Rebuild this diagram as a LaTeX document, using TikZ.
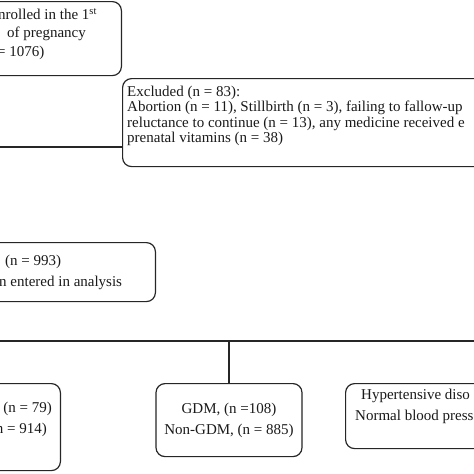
\documentclass[tikz,border=0pt]{standalone}
\usepackage{fontspec}
\setmainfont{Liberation Serif}
\usepackage{xcolor}
\usepackage{tikz}
\usetikzlibrary{positioning}
\definecolor{fcInk}{HTML}{1A1A1A}
\definecolor{fcLine}{HTML}{262626}
\tikzset{
  fc diagram/.style={font=\fontsize{15}{21}\selectfont, text=fcInk,
    line join=round},
  fc box/.style={draw=fcLine, fill=white, line width=1.2pt,
    rounded corners=9pt, inner sep=0pt},
  fc text/.style={inner sep=0pt, align=left},
  fc line/.style={draw=fcLine, line width=1.2pt}
}

\begin{document}
\begin{tikzpicture}[fc diagram,x=1pt,y=1pt]
\useasboundingbox (0,0) rectangle (474,-474);
\clip (0,0) rectangle (474,-474);
% boxes, partly outside the frame
\node[fc box,anchor=north east,minimum width=300pt,minimum height=74pt] (enrol) at (122,-1) {};
\node[fc box,anchor=north west,minimum width=500pt,minimum height=88pt] (excl) at (122,-78) {};
\node[fc box,anchor=north east,minimum width=300pt,minimum height=59pt] (anal) at (156,-242) {};
\node[fc box,anchor=north east,minimum width=300pt,minimum height=87pt] (pre) at (61,-383) {};
\node[fc box,anchor=north,minimum width=146pt,minimum height=73pt,align=center] (gdm) at (229,-383)
  {GDM, (n =108)\\Non-GDM, (n = 885)};
\node[fc box,anchor=north west,minimum width=300pt,minimum height=65pt] (hyp) at (345,-383) {};
% texts
\node[fc text,anchor=west,font=\fontsize{15}{18.5}\selectfont] (enrolText) at (-3,-34)
  {\hspace*{1pt}nrolled in the 1\textsuperscript{st}\\\hspace*{10pt}of pregnancy\\= 1076)};
\node[fc text,anchor=west,font=\fontsize{15}{15.4}\selectfont] (exclText) at (127,-116)
  {Excluded (n = 83):\\
   Abortion (n = 11), Stillbirth (n = 3), failing to fallow-up\\
   reluctance to continue (n = 13), any medicine received e\\
   prenatal vitamins (n = 38)};
\node[fc text,anchor=west] (analText) at (-1,-272.5)
  {\hspace*{6pt}(n = 993)\\n entered in analysis};
\node[fc text,anchor=east,align=right] (preText) at (52,-419)
  {(n = 79)\\n = 914)\hspace*{5pt}};
\node[fc text,anchor=west] (hypText) at (355,-406.5)
  {\hspace*{6pt}Hypertensive diso\\Normal blood press};
% connectors
\coordinate (cut) at (-30,-147);
\draw[fc line] (cut) -- (cut -| excl.west);
\coordinate (busL) at (-30,-341);
\coordinate (busR) at (520,-341);
\draw[fc line] (busL) -- (busR);
\draw[fc line] (gdm.north |- busL) -- (gdm.north);
\end{tikzpicture}
\end{document}
